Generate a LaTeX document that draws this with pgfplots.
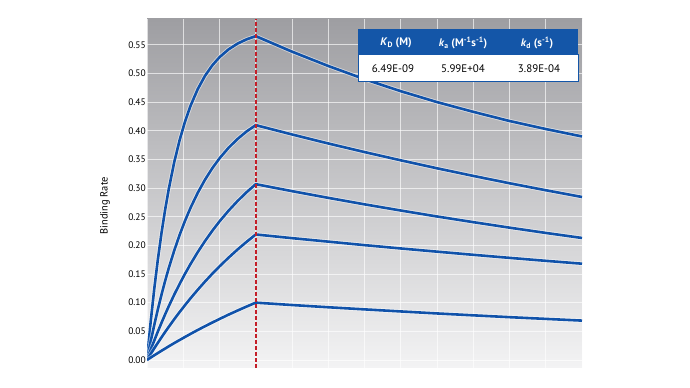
\documentclass[border=0pt]{standalone}
\usepackage{fontspec}
\setmainfont{PT Sans}
\usepackage{pgfplots}
\usepackage{pgfplotstable}
\pgfplotsset{compat=1.18}
\definecolor{curveblue}{RGB}{16,82,170}
\definecolor{hdrblue}{RGB}{20,86,168}
\definecolor{dashred}{RGB}{196,30,40}
\definecolor{bgtop}{RGB}{158,158,162}
\definecolor{bgbot}{RGB}{243,243,244}

\pgfplotstableread{
t c1 c2 c3 c4 c5
0 0 0 0 0 0
10 0.0657 0.0316 0.0172 0.0102 0.0041
20 0.1240 0.0610 0.0338 0.0203 0.0082
30 0.1756 0.0885 0.0497 0.0300 0.0121
40 0.2215 0.1140 0.0649 0.0395 0.0161
50 0.2621 0.1379 0.0796 0.0488 0.0199
60 0.2982 0.1602 0.0937 0.0578 0.0238
75 0.3448 0.1907 0.1138 0.0710 0.0294
90 0.3837 0.2183 0.1327 0.0836 0.0348
105 0.4162 0.2431 0.1506 0.0958 0.0402
120 0.4434 0.2654 0.1673 0.1076 0.0455
140 0.4727 0.2917 0.1882 0.1225 0.0523
160 0.4958 0.3146 0.2075 0.1368 0.0589
180 0.5140 0.3345 0.2253 0.1504 0.0653
200 0.5283 0.3518 0.2418 0.1633 0.0715
225 0.5420 0.3703 0.2605 0.1785 0.0791
250 0.5521 0.3858 0.2775 0.1929 0.0863
275 0.5596 0.3989 0.2929 0.2063 0.0933
300 0.5651 0.4098 0.3068 0.2190 0.1000
400 0.538 0.3935 0.2946 0.2126 0.0959
500 0.513 0.3778 0.2829 0.2065 0.0920
600 0.490 0.3628 0.2716 0.2004 0.0883
700 0.469 0.3484 0.2608 0.1946 0.0847
800 0.450 0.3345 0.2504 0.1890 0.0812
900 0.433 0.3212 0.2405 0.1835 0.0779
1000 0.417 0.3084 0.2309 0.1782 0.0747
1100 0.403 0.2962 0.2217 0.1730 0.0717
1200 0.390 0.2844 0.2129 0.1680 0.0687
}\sensordata

\begin{document}
\begin{tikzpicture}
\path[use as bounding box] (0bp,0bp) rectangle (690bp,388bp);
\begin{axis}[
  at={(147bp,20bp)}, anchor=south west,
  scale only axis, width=435bp, height=349bp,
  xmin=0, xmax=1200, ymin=-0.014, ymax=0.595,
  axis line style={draw=none},
  axis background/.style={shade, top color=bgtop, bottom color=bgbot},
  xtick={0,100,200,300,400,500,600,700,800,900,1000,1100,1200},
  xticklabels={},
  ytick={0,0.05,0.10,0.15,0.20,0.25,0.30,0.35,0.40,0.45,0.50,0.55},
  yticklabel style={/pgf/number format/fixed, /pgf/number format/fixed zerofill,
    /pgf/number format/precision=2, font=\fontsize{9.5}{10}\selectfont, inner sep=1bp},
  /pgf/number format/assume math mode=true,
  major tick length=0pt,
  grid=major,
  major grid style={white, opacity=0.65, line width=0.8bp},
  ylabel={Binding Rate},
  ylabel style={font=\fontsize{10.5}{12}\selectfont, at={(axis description cs:-0.0966,0.465)}, anchor=center},
  clip=true,
]
\foreach \c in {c1,c2,c3,c4,c5}{
  \addplot[white, opacity=0.55, line width=4.2bp] table[x=t, y=\c] {\sensordata};
  \addplot[curveblue, line width=2.6bp] table[x=t, y=\c] {\sensordata};
}
\addplot[dashred, line width=1.6bp, dash pattern=on 4bp off 2bp] coordinates {(300,-0.014) (300,0.595)};
\end{axis}
% parameter table
\fill[hdrblue] (358bp,334bp) rectangle (578bp,359bp);
\filldraw[fill=white, draw=hdrblue, line width=0.6bp] (358bp,307bp) rectangle (578bp,334bp);
\begin{scope}[every node/.style={font=\fontsize{11}{13}\selectfont\bfseries, text=white, inner sep=0pt}]
\node at (396bp,345bp) {\textit{K}\textsubscript{D} (M)};
\node at (463bp,345bp) {\textit{k}\textsubscript{a} (M\textsuperscript{-1}s\textsuperscript{-1})};
\node at (537bp,345bp) {\textit{k}\textsubscript{d} (s\textsuperscript{-1})};
\end{scope}
\begin{scope}[every node/.style={font=\fontsize{11}{13}\selectfont, text=black, inner sep=0pt}]
\node at (393bp,319bp) {6.49E-09};
\node at (463bp,319bp) {5.99E+04};
\node at (539bp,319bp) {3.89E-04};
\end{scope}
\end{tikzpicture}
\end{document}
